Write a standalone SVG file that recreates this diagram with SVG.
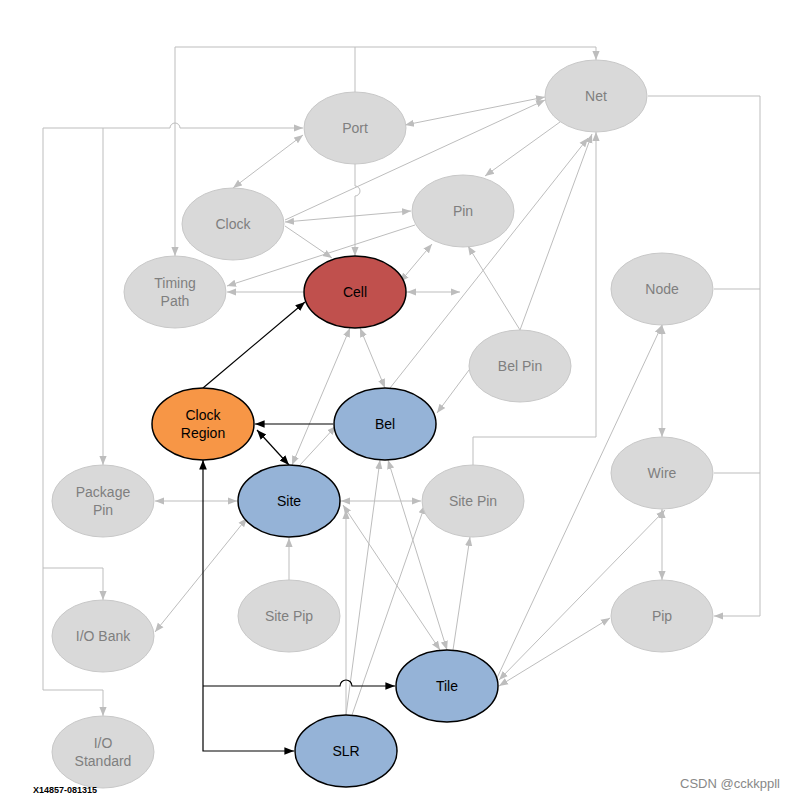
<svg xmlns="http://www.w3.org/2000/svg" width="794" height="800" viewBox="0 0 794 800">
<style>
.g ellipse{fill:#d9d9d9;stroke:#c8c8c8;stroke-width:1}
.g text{fill:#7f7f7f}
text{font-family:"Liberation Sans",Arial,sans-serif;font-size:14px;text-anchor:middle}
.c ellipse{stroke:#000;stroke-width:1.5}
.c text{fill:#000}
.l line,.l path{stroke:#bdbdbd;stroke-width:1;fill:none}
.b line,.b path{stroke:#000;stroke-width:1.2;fill:none}
</style>
<defs>
<marker id="a" viewBox="0 0 10 10" refX="10" refY="5" markerWidth="9" markerHeight="9" orient="auto-start-reverse"><path d="M0,1L10,5L0,9z" fill="#bdbdbd"/></marker>
<marker id="k" viewBox="0 0 10 10" refX="10" refY="5" markerWidth="8" markerHeight="8" orient="auto-start-reverse"><path d="M0,1L10,5L0,9z" fill="#000"/></marker>
</defs>
<rect width="794" height="800" fill="#fff"/>
<g id="connectors">
<g class="l">
<path d="M355,92V47H175V256" marker-end="url(#a)"/>
<path d="M355,47H596V60" marker-end="url(#a)"/>
<path d="M103,128V465" marker-end="url(#a)"/>
<path d="M43,690V128H170a5,5 0 0 1 10,0H303" marker-end="url(#a)"/>
<path d="M43,568H103V600" marker-end="url(#a)"/>
<path d="M43,690H103V716" marker-end="url(#a)"/>
<line x1="405" y1="125" x2="545" y2="97" marker-start="url(#a)" marker-end="url(#a)"/>
<line x1="303" y1="135" x2="233" y2="188" marker-start="url(#a)" marker-end="url(#a)"/>
<path d="M355,164V186a5,5 0 0 1 0,10V256" marker-end="url(#a)"/>
<line x1="285" y1="220" x2="545" y2="100" marker-end="url(#a)"/>
<line x1="285" y1="222" x2="411" y2="211" marker-start="url(#a)" marker-end="url(#a)"/>
<line x1="285" y1="226" x2="332" y2="258" marker-end="url(#a)"/>
<line x1="303" y1="292" x2="227" y2="292" marker-end="url(#a)"/>
<line x1="227" y1="286" x2="415" y2="225" marker-start="url(#a)"/>
<line x1="485" y1="176" x2="560" y2="122" marker-start="url(#a)"/>
<line x1="400" y1="282" x2="432" y2="244" marker-start="url(#a)" marker-end="url(#a)"/>
<line x1="407" y1="292" x2="460" y2="292" marker-start="url(#a)" marker-end="url(#a)"/>
<line x1="520" y1="330" x2="468" y2="246" marker-end="url(#a)"/>
<line x1="520" y1="330" x2="592" y2="134" marker-end="url(#a)"/>
<line x1="472" y1="366" x2="437" y2="413" marker-end="url(#a)"/>
<line x1="390" y1="388" x2="588" y2="138" marker-end="url(#a)"/>
<line x1="360" y1="328" x2="385" y2="388" marker-start="url(#a)" marker-end="url(#a)"/>
<line x1="350" y1="328" x2="292" y2="465" marker-start="url(#a)" marker-end="url(#a)"/>
<line x1="300" y1="465" x2="336" y2="426" marker-end="url(#a)"/>
<path d="M473,465V437H596V132" marker-end="url(#a)"/>
<line x1="155" y1="501" x2="237" y2="501" marker-start="url(#a)" marker-end="url(#a)"/>
<line x1="341" y1="501" x2="421" y2="501" marker-start="url(#a)" marker-end="url(#a)"/>
<line x1="155" y1="632" x2="247" y2="518" marker-start="url(#a)" marker-end="url(#a)"/>
<line x1="289" y1="580" x2="289" y2="538" marker-end="url(#a)"/>
<path d="M648,96H760V616H714" marker-end="url(#a)"/>
<path d="M714,289H760M714,473H760"/>
<line x1="662" y1="325" x2="662" y2="437" marker-start="url(#a)" marker-end="url(#a)"/>
<line x1="662" y1="509" x2="662" y2="580" marker-start="url(#a)" marker-end="url(#a)"/>
<line x1="497" y1="678" x2="662" y2="325" marker-end="url(#a)"/>
<line x1="499" y1="680" x2="665" y2="510" marker-start="url(#a)" marker-end="url(#a)"/>
<line x1="499" y1="686" x2="610" y2="618" marker-start="url(#a)" marker-end="url(#a)"/>
<line x1="447" y1="650" x2="388" y2="460" marker-start="url(#a)" marker-end="url(#a)"/>
<line x1="440" y1="650" x2="343" y2="505" marker-end="url(#a)" marker-start="url(#a)"/>
<line x1="453" y1="650" x2="470" y2="537" marker-end="url(#a)"/>
<line x1="346" y1="715" x2="380" y2="460" marker-end="url(#a)"/>
<line x1="346" y1="715" x2="346" y2="510" marker-end="url(#a)"/>
<line x1="352" y1="715" x2="425" y2="505" marker-end="url(#a)"/>
</g>
<g class="b">
<line x1="203" y1="388" x2="305" y2="302" marker-end="url(#k)"/>
<line x1="333" y1="424" x2="255" y2="424" marker-end="url(#k)"/>
<line x1="257" y1="430" x2="289" y2="465" marker-start="url(#k)" marker-end="url(#k)"/>
<path d="M203,460V751H294" marker-start="url(#k)" marker-end="url(#k)"/>
<path d="M203,686H340a6,6 0 0 1 12,0H395" marker-end="url(#k)"/>
</g>
</g>
<g id="port" class="g"><ellipse cx="355" cy="128" rx="51" ry="36"/><text x="355" y="133">Port</text></g>
<g id="net" class="g"><ellipse cx="596" cy="96" rx="51" ry="36"/><text x="596" y="101">Net</text></g>
<g id="clock" class="g"><ellipse cx="233" cy="224" rx="51" ry="36"/><text x="233" y="229">Clock</text></g>
<g id="pin" class="g"><ellipse cx="463" cy="211" rx="51" ry="36"/><text x="463" y="216">Pin</text></g>
<g id="timing" class="g"><ellipse cx="175" cy="292" rx="51" ry="36"/><text x="175" y="288">Timing</text><text x="175" y="306">Path</text></g>
<g id="cell" class="c"><ellipse cx="355" cy="292" rx="51" ry="36" fill="#c0504d"/><text x="355" y="297">Cell</text></g>
<g id="node" class="g"><ellipse cx="662" cy="289" rx="51" ry="36"/><text x="662" y="294">Node</text></g>
<g id="belpin" class="g"><ellipse cx="520" cy="366" rx="51" ry="36"/><text x="520" y="371">Bel Pin</text></g>
<g id="clockregion" class="c"><ellipse cx="203" cy="424" rx="51" ry="36" fill="#f79646"/><text x="203" y="420">Clock</text><text x="203" y="438">Region</text></g>
<g id="bel" class="c"><ellipse cx="385" cy="424" rx="51" ry="36" fill="#95b3d7"/><text x="385" y="429">Bel</text></g>
<g id="wire" class="g"><ellipse cx="662" cy="473" rx="51" ry="36"/><text x="662" y="478">Wire</text></g>
<g id="packagepin" class="g"><ellipse cx="103" cy="501" rx="51" ry="36"/><text x="103" y="497">Package</text><text x="103" y="515">Pin</text></g>
<g id="site" class="c"><ellipse cx="289" cy="501" rx="51" ry="36" fill="#95b3d7"/><text x="289" y="506">Site</text></g>
<g id="sitepin" class="g"><ellipse cx="473" cy="501" rx="51" ry="36"/><text x="473" y="506">Site Pin</text></g>
<g id="iobank" class="g"><ellipse cx="103" cy="636" rx="51" ry="36"/><text x="103" y="641">I/O Bank</text></g>
<g id="sitepip" class="g"><ellipse cx="289" cy="616" rx="51" ry="36"/><text x="289" y="621">Site Pip</text></g>
<g id="pip" class="g"><ellipse cx="662" cy="616" rx="51" ry="36"/><text x="662" y="621">Pip</text></g>
<g id="tile" class="c"><ellipse cx="447" cy="686" rx="51" ry="36" fill="#95b3d7"/><text x="447" y="691">Tile</text></g>
<g id="iostandard" class="g"><ellipse cx="103" cy="752" rx="51" ry="36"/><text x="103" y="748">I/O</text><text x="103" y="766">Standard</text></g>
<g id="slr" class="c"><ellipse cx="346" cy="751" rx="51" ry="36" fill="#95b3d7"/><text x="346" y="756">SLR</text></g>
<text x="65" y="793" style="font-size:9px;font-weight:bold">X14857-081315</text>
<text x="730" y="788" style="font-size:13px;fill:#888">CSDN @cckkppll</text>
</svg>
